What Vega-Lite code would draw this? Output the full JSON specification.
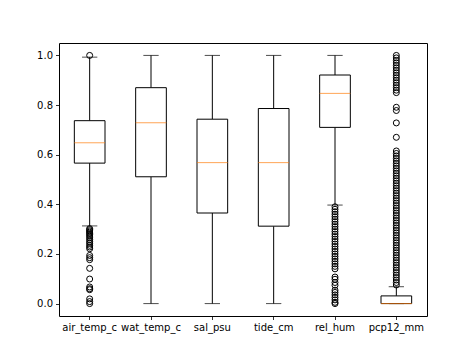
{
  "$schema": "https://vega.github.io/schema/vega-lite/v6.json",
  "width": 368,
  "height": 273,
  "autosize": {"type": "none"},
  "padding": {"left": 59, "top": 43, "right": 47, "bottom": 39},
  "background": "white",
  "config": {
    "view": {"stroke": "black", "strokeWidth": 1},
    "font": "DejaVu Sans",
    "axis": {"grid": false, "domain": false, "labelFont": "DejaVu Sans", "labelFontSize": 10, "labelColor": "black", "tickColor": "black", "tickSize": 3.5, "tickWidth": 0.8, "labelPadding": 3, "title": null}
  },
  "datasets": {
    "stats": [
      {"v": "air_temp_c", "lo": 0.313, "q1": 0.566, "med": 0.648, "q3": 0.737, "hi": 0.993},
      {"v": "wat_temp_c", "lo": 0.0, "q1": 0.511, "med": 0.729, "q3": 0.870, "hi": 1.0},
      {"v": "sal_psu", "lo": 0.0, "q1": 0.365, "med": 0.568, "q3": 0.743, "hi": 1.0},
      {"v": "tide_cm", "lo": 0.0, "q1": 0.312, "med": 0.568, "q3": 0.786, "hi": 1.0},
      {"v": "rel_hum", "lo": 0.397, "q1": 0.710, "med": 0.847, "q3": 0.921, "hi": 1.0},
      {"v": "pcp12_mm", "lo": 0.0, "q1": 0.0, "med": 0.0, "q3": 0.031, "hi": 0.068}
    ],
    "out": [
      {"v": "air_temp_c", "y": 1.0},
      {"v": "air_temp_c", "y": 0.302}, {"v": "air_temp_c", "y": 0.298}, {"v": "air_temp_c", "y": 0.293}, {"v": "air_temp_c", "y": 0.288},
      {"v": "air_temp_c", "y": 0.283}, {"v": "air_temp_c", "y": 0.278}, {"v": "air_temp_c", "y": 0.272}, {"v": "air_temp_c", "y": 0.265},
      {"v": "air_temp_c", "y": 0.258}, {"v": "air_temp_c", "y": 0.25}, {"v": "air_temp_c", "y": 0.243}, {"v": "air_temp_c", "y": 0.235},
      {"v": "air_temp_c", "y": 0.228}, {"v": "air_temp_c", "y": 0.221}, {"v": "air_temp_c", "y": 0.194}, {"v": "air_temp_c", "y": 0.185},
      {"v": "air_temp_c", "y": 0.177}, {"v": "air_temp_c", "y": 0.142}, {"v": "air_temp_c", "y": 0.099}, {"v": "air_temp_c", "y": 0.067},
      {"v": "air_temp_c", "y": 0.06}, {"v": "air_temp_c", "y": 0.056}, {"v": "air_temp_c", "y": 0.019}, {"v": "air_temp_c", "y": 0.008},
      {"v": "air_temp_c", "y": 0.0},
      {"v": "rel_hum", "y": 0.39}, {"v": "rel_hum", "y": 0.38}, {"v": "rel_hum", "y": 0.37}, {"v": "rel_hum", "y": 0.36},
      {"v": "rel_hum", "y": 0.35}, {"v": "rel_hum", "y": 0.34}, {"v": "rel_hum", "y": 0.33}, {"v": "rel_hum", "y": 0.32},
      {"v": "rel_hum", "y": 0.31}, {"v": "rel_hum", "y": 0.30}, {"v": "rel_hum", "y": 0.29}, {"v": "rel_hum", "y": 0.28},
      {"v": "rel_hum", "y": 0.27}, {"v": "rel_hum", "y": 0.26}, {"v": "rel_hum", "y": 0.25}, {"v": "rel_hum", "y": 0.24},
      {"v": "rel_hum", "y": 0.23}, {"v": "rel_hum", "y": 0.22}, {"v": "rel_hum", "y": 0.21}, {"v": "rel_hum", "y": 0.20},
      {"v": "rel_hum", "y": 0.19}, {"v": "rel_hum", "y": 0.18}, {"v": "rel_hum", "y": 0.17}, {"v": "rel_hum", "y": 0.16},
      {"v": "rel_hum", "y": 0.15}, {"v": "rel_hum", "y": 0.14}, {"v": "rel_hum", "y": 0.107}, {"v": "rel_hum", "y": 0.098},
      {"v": "rel_hum", "y": 0.085}, {"v": "rel_hum", "y": 0.074}, {"v": "rel_hum", "y": 0.054}, {"v": "rel_hum", "y": 0.045},
      {"v": "rel_hum", "y": 0.035}, {"v": "rel_hum", "y": 0.025}, {"v": "rel_hum", "y": 0.015}, {"v": "rel_hum", "y": 0.005},
      {"v": "rel_hum", "y": 0.0},
      {"v": "pcp12_mm", "y": 0.075}, {"v": "pcp12_mm", "y": 0.085}, {"v": "pcp12_mm", "y": 0.095}, {"v": "pcp12_mm", "y": 0.105},
      {"v": "pcp12_mm", "y": 0.115}, {"v": "pcp12_mm", "y": 0.125}, {"v": "pcp12_mm", "y": 0.135}, {"v": "pcp12_mm", "y": 0.145},
      {"v": "pcp12_mm", "y": 0.155}, {"v": "pcp12_mm", "y": 0.165}, {"v": "pcp12_mm", "y": 0.175}, {"v": "pcp12_mm", "y": 0.185},
      {"v": "pcp12_mm", "y": 0.195}, {"v": "pcp12_mm", "y": 0.205}, {"v": "pcp12_mm", "y": 0.215}, {"v": "pcp12_mm", "y": 0.225},
      {"v": "pcp12_mm", "y": 0.235}, {"v": "pcp12_mm", "y": 0.245}, {"v": "pcp12_mm", "y": 0.255}, {"v": "pcp12_mm", "y": 0.265},
      {"v": "pcp12_mm", "y": 0.275}, {"v": "pcp12_mm", "y": 0.285}, {"v": "pcp12_mm", "y": 0.295}, {"v": "pcp12_mm", "y": 0.305},
      {"v": "pcp12_mm", "y": 0.315}, {"v": "pcp12_mm", "y": 0.325}, {"v": "pcp12_mm", "y": 0.335}, {"v": "pcp12_mm", "y": 0.345},
      {"v": "pcp12_mm", "y": 0.355}, {"v": "pcp12_mm", "y": 0.365}, {"v": "pcp12_mm", "y": 0.375}, {"v": "pcp12_mm", "y": 0.385},
      {"v": "pcp12_mm", "y": 0.395}, {"v": "pcp12_mm", "y": 0.405}, {"v": "pcp12_mm", "y": 0.415}, {"v": "pcp12_mm", "y": 0.425},
      {"v": "pcp12_mm", "y": 0.435}, {"v": "pcp12_mm", "y": 0.445}, {"v": "pcp12_mm", "y": 0.455}, {"v": "pcp12_mm", "y": 0.465},
      {"v": "pcp12_mm", "y": 0.475}, {"v": "pcp12_mm", "y": 0.485}, {"v": "pcp12_mm", "y": 0.495}, {"v": "pcp12_mm", "y": 0.505},
      {"v": "pcp12_mm", "y": 0.515}, {"v": "pcp12_mm", "y": 0.525}, {"v": "pcp12_mm", "y": 0.535}, {"v": "pcp12_mm", "y": 0.545},
      {"v": "pcp12_mm", "y": 0.555}, {"v": "pcp12_mm", "y": 0.565}, {"v": "pcp12_mm", "y": 0.575}, {"v": "pcp12_mm", "y": 0.585},
      {"v": "pcp12_mm", "y": 0.595}, {"v": "pcp12_mm", "y": 0.605}, {"v": "pcp12_mm", "y": 0.615},
      {"v": "pcp12_mm", "y": 0.67}, {"v": "pcp12_mm", "y": 0.728}, {"v": "pcp12_mm", "y": 0.778}, {"v": "pcp12_mm", "y": 0.791},
      {"v": "pcp12_mm", "y": 0.85}, {"v": "pcp12_mm", "y": 0.86}, {"v": "pcp12_mm", "y": 0.87}, {"v": "pcp12_mm", "y": 0.88},
      {"v": "pcp12_mm", "y": 0.89}, {"v": "pcp12_mm", "y": 0.90}, {"v": "pcp12_mm", "y": 0.91}, {"v": "pcp12_mm", "y": 0.92},
      {"v": "pcp12_mm", "y": 0.93}, {"v": "pcp12_mm", "y": 0.94}, {"v": "pcp12_mm", "y": 0.95}, {"v": "pcp12_mm", "y": 0.96},
      {"v": "pcp12_mm", "y": 0.97}, {"v": "pcp12_mm", "y": 0.98}, {"v": "pcp12_mm", "y": 0.99}, {"v": "pcp12_mm", "y": 1.0}
    ]
  },
  "encoding": {
    "x": {
      "field": "v", "type": "nominal",
      "sort": ["air_temp_c", "wat_temp_c", "sal_psu", "tide_cm", "rel_hum", "pcp12_mm"],
      "scale": {"type": "band", "domain": ["air_temp_c", "wat_temp_c", "sal_psu", "tide_cm", "rel_hum", "pcp12_mm"], "paddingInner": 0, "paddingOuter": 0},
      "axis": {"labelAngle": 0, "labelOverlap": false, "labelLimit": 0}
    }
  },
  "layer": [
    {
      "data": {"name": "stats"},
      "mark": {"type": "rule", "color": "black", "strokeWidth": 1},
      "encoding": {
        "y": {"field": "lo", "type": "quantitative", "scale": {"domain": [-0.05, 1.05], "nice": false, "zero": false}, "axis": {"values": [0, 0.2, 0.4, 0.6, 0.8, 1.0], "format": ".1f"}},
        "y2": {"field": "q1"}
      }
    },
    {
      "data": {"name": "stats"},
      "mark": {"type": "rule", "color": "black", "strokeWidth": 1},
      "encoding": {
        "y": {"field": "q3", "type": "quantitative"},
        "y2": {"field": "hi"}
      }
    },
    {
      "data": {"name": "stats"},
      "mark": {"type": "bar", "fill": "white", "stroke": "black", "strokeWidth": 1, "width": {"band": 0.5}},
      "encoding": {
        "y": {"field": "q1", "type": "quantitative"},
        "y2": {"field": "q3"}
      }
    },
    {
      "data": {"name": "stats"},
      "mark": {"type": "tick", "color": "black", "size": 15.3, "thickness": 1, "orient": "horizontal"},
      "encoding": {"y": {"field": "lo", "type": "quantitative"}}
    },
    {
      "data": {"name": "stats"},
      "mark": {"type": "tick", "color": "black", "size": 15.3, "thickness": 1, "orient": "horizontal"},
      "encoding": {"y": {"field": "hi", "type": "quantitative"}}
    },
    {
      "data": {"name": "stats"},
      "mark": {"type": "tick", "color": "#ff7f0e", "size": 30.7, "thickness": 1, "orient": "horizontal"},
      "encoding": {"y": {"field": "med", "type": "quantitative"}}
    },
    {
      "data": {"name": "out"},
      "mark": {"type": "point", "shape": "circle", "filled": false, "stroke": "black", "strokeWidth": 1, "size": 36, "opacity": 1},
      "encoding": {"y": {"field": "y", "type": "quantitative"}}
    }
  ]
}
